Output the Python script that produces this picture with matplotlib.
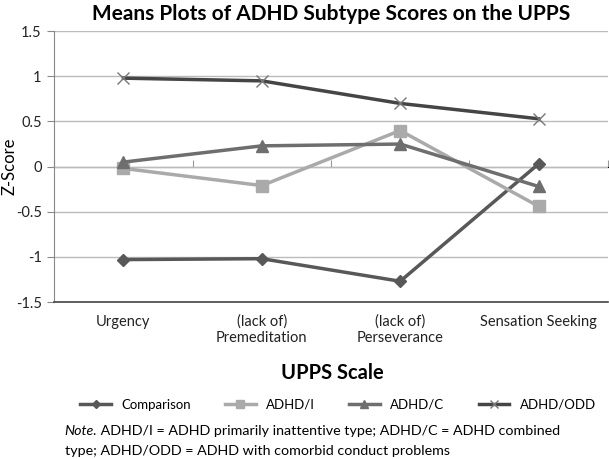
import matplotlib
matplotlib.use("Agg")
import matplotlib.pyplot as plt

plt.rcParams['font.family'] = ['Lato', 'DejaVu Sans']

# data
scales = ["Urgency", "(lack of)\nPremeditation", "(lack of)\nPerseverance", "Sensation Seeking"]
comparison = [-1.03, -1.02, -1.27, 0.03]
adhd_i = [-0.02, -0.21, 0.40, -0.44]
adhd_c = [0.05, 0.23, 0.25, -0.22]
adhd_odd = [0.98, 0.95, 0.70, 0.53]
yticks = [-1.5, -1, -0.5, 0, 0.5, 1, 1.5]
ytick_labels = ["-1.5", "-1", "-0.5", "0", "0.5", "1", "1.5"]

fig = plt.figure(figsize=(6.09, 4.59), dpi=100)
ax = fig.add_axes([0.089, 0.342, 0.909, 0.590])

x = range(len(scales))
ax.plot(x, comparison, c="#585858", lw=2.5, marker="D", ms=6, label="Comparison")
ax.plot(x, adhd_i, c="#aaaaaa", lw=2.5, marker="s", ms=8, label="ADHD/I")
ax.plot(x, adhd_c, c="#6e6e6e", lw=2.5, marker="^", ms=8, label="ADHD/C")
ax.plot(x, adhd_odd, c="#454545", lw=2.5, marker="x", ms=9, mew=1, mec="#777777", label="ADHD/ODD")

ax.set_xlim(-0.5, len(scales) - 0.5)
ax.set_ylim(-1.5, 1.5)
ax.set_yticks(yticks)
ax.set_yticklabels(ytick_labels)
ax.set_xticks(list(x))
ax.set_xticklabels(scales, fontsize=10.5, color="#222222")
ax.tick_params(axis="x", length=0, pad=9)
ax.tick_params(axis="y", direction="out", length=5, pad=4, color="#888888", labelsize=10.5, labelcolor="#222222")
ax.grid(axis="y", color="#bbbbbb", lw=1)
ax.set_axisbelow(True)

for s in ["top", "right"]:
    ax.spines[s].set_visible(False)
ax.spines["left"].set_color("#888888")
ax.spines["bottom"].set_color("#444444")
ax.spines["bottom"].set_linewidth(1.2)

# x axis crossing at zero with category boundary ticks
sec = ax.secondary_xaxis(0.5)
sec.set_xticks([i - 0.5 for i in range(len(scales) + 1)])
sec.set_xticklabels([])
sec.tick_params(direction="out", length=5, color="#999999")
sec.spines["bottom"].set_color("#999999")

ax.set_ylabel("Z-Score", fontsize=12)
ax.yaxis.set_label_coords(-0.066, 0.5)
ax.set_title("Means Plots of ADHD Subtype Scores on the UPPS", fontsize=15, fontweight="bold", pad=8)
fig.text(0.545, 0.188, "UPPS Scale", ha="center", va="center", fontsize=14.5, fontweight="bold")

fig.legend(loc="center", bbox_to_anchor=(0.555, 0.118), ncol=4, frameon=False, fontsize=9.5,
           handlelength=2.3, columnspacing=2.6, markerscale=0.7, handletextpad=0.8)

t1 = fig.text(0.106, 0.062, "Note.", style="italic", fontsize=10.3, va="center")
ax.annotate(" ADHD/I = ADHD primarily inattentive type; ADHD/C = ADHD combined", xy=(1, 0.5),
            xycoords=t1, va="center", fontsize=10.3)
fig.text(0.106, 0.018, "type; ADHD/ODD = ADHD with comorbid conduct problems", fontsize=10.3, va="center")

fig.savefig("out.png", dpi=100)
